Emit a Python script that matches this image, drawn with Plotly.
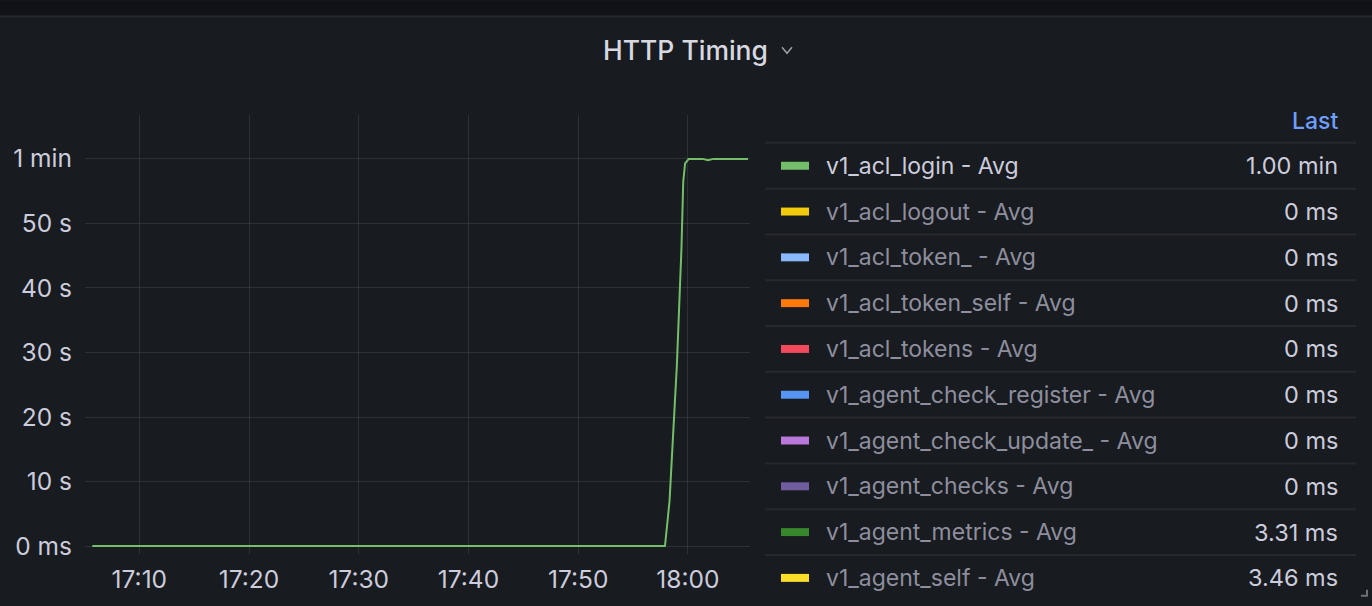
import plotly.graph_objects as go

# v1_acl_login - Avg (seconds), the only visible series
times = ["2024-01-01 17:05:43", "2024-01-01 17:57:55", "2024-01-01 17:58:20",
         "2024-01-01 17:59:00", "2024-01-01 17:59:25", "2024-01-01 17:59:35",
         "2024-01-01 17:59:45", "2024-01-01 18:00:05", "2024-01-01 18:01:20",
         "2024-01-01 18:01:50", "2024-01-01 18:02:20", "2024-01-01 18:05:29"]
login_avg = [0, 0, 7, 28, 46, 56.5, 59.3, 60, 60, 59.8, 60, 60]

series_names = ["v1_acl_login - Avg", "v1_acl_logout - Avg", "v1_acl_token_ - Avg",
                "v1_acl_token_self - Avg", "v1_acl_tokens - Avg",
                "v1_agent_check_register - Avg", "v1_agent_check_update_ - Avg",
                "v1_agent_checks - Avg", "v1_agent_metrics - Avg", "v1_agent_self - Avg"]
series_colors = ["#73bf69", "#f2cc0c", "#8ab8ff", "#ff780a", "#f2495c",
                 "#5794f2", "#b877d9", "#705da0", "#37872d", "#fade2a"]
last_values = ["1.00 min", "0 ms", "0 ms", "0 ms", "0 ms", "0 ms", "0 ms", "0 ms",
               "3.31 ms", "3.46 ms"]

y_ticks = [0, 10, 20, 30, 40, 50, 60]
y_labels = ["0 ms", "10 s", "20 s", "30 s", "40 s", "50 s", "1 min"]

BG = "#181b1f"
TEXT = "#ccccdc"
DIM = "#8e8e9e"
FONT = "Inter"

W, H = 1372, 606
L, R, T, B = 85, 750, 115, 556


def px(x):
    return (x - L) / (R - L)


def py(y):
    return (B - y) / (B - T)


fig = go.Figure()
fig.add_trace(go.Scatter(x=times, y=login_avg, mode="lines",
                         line=dict(color=series_colors[0], width=2),
                         showlegend=False, hoverinfo="skip"))

shapes = []
annotations = []

# top strip of the dashboard
shapes.append(dict(type="rect", xref="paper", yref="paper", x0=px(0), x1=px(W),
                   y0=py(0), y1=py(15), fillcolor="#111217", line_width=0, layer="below"))
shapes.append(dict(type="line", xref="paper", yref="paper", x0=px(0), x1=px(W),
                   y0=py(16), y1=py(16), line=dict(color="#26282d", width=2)))

# title + chevron
annotations.append(dict(text="HTTP Timing", xref="paper", yref="paper", x=px(685), y=py(50),
                        xanchor="center", yanchor="middle", showarrow=False,
                        font=dict(family=FONT, size=26.5, color="#d8d9e0", weight=500)))
shapes.append(dict(type="path", xref="paper", yref="paper",
                   path=f"M {px(782)} {py(47)} L {px(787)} {py(53)} L {px(792)} {py(47)}",
                   line=dict(color="#9fa0aa", width=1.5)))

# legend table
annotations.append(dict(text="Last", xref="paper", yref="paper", x=px(1340), y=py(121),
                        xanchor="right", yanchor="middle", showarrow=False,
                        font=dict(family=FONT, size=23, color="#6e9fff", weight=500)))
row_h = 46
for i, name in enumerate(series_names):
    sep = 143 + row_h * i
    cy = sep + 23
    shapes.append(dict(type="line", xref="paper", yref="paper", x0=px(765), x1=px(1356),
                       y0=py(sep), y1=py(sep), line=dict(color="#27292e", width=2)))
    shapes.append(dict(type="rect", xref="paper", yref="paper", x0=px(781), x1=px(809),
                       y0=py(cy - 4), y1=py(cy + 4), fillcolor=series_colors[i], line_width=0))
    annotations.append(dict(text=name, xref="paper", yref="paper", x=px(824), y=py(cy),
                            xanchor="left", yanchor="middle", showarrow=False,
                            font=dict(family=FONT, size=23, color=TEXT if i == 0 else DIM)))
    annotations.append(dict(text=last_values[i], xref="paper", yref="paper", x=px(1340), y=py(cy),
                            xanchor="right", yanchor="middle", showarrow=False,
                            font=dict(family=FONT, size=23.5, color=TEXT)))

# resize handle
shapes.append(dict(type="path", xref="paper", yref="paper",
                   path=f"M {px(1361)} {py(598)} L {px(1367)} {py(598)} L {px(1367)} {py(592)}",
                   line=dict(color="#6e6f78", width=2)))

fig.update_layout(
    width=W, height=H,
    margin=dict(l=L, r=W - R, t=T, b=H - B),
    paper_bgcolor=BG, plot_bgcolor=BG,
    font=dict(family=FONT, color=TEXT, size=23),
    shapes=shapes, annotations=annotations,
    showlegend=False,
)
fig.update_xaxes(type="date", range=["2024-01-01 17:05:03", "2024-01-01 18:05:40"],
                 tick0="2024-01-01 17:10:00", dtick=600000, tickformat="%H:%M",
                 showgrid=True, gridcolor="rgba(204,204,220,0.12)", gridwidth=1,
                 zeroline=False, showline=False, ticks="", ticklabelstandoff=8,
                 tickfont=dict(family=FONT, size=24.5, color=TEXT), fixedrange=True)
fig.update_yaxes(range=[-1.23, 66.8], tickvals=y_ticks, ticktext=y_labels,
                 showgrid=True, gridcolor="rgba(204,204,220,0.12)", gridwidth=1,
                 zeroline=False, showline=False, ticks="", ticklabelstandoff=12,
                 tickfont=dict(family=FONT, size=24.5, color=TEXT), fixedrange=True)

fig.write_html("out.html", config={"displayModeBar": False},
               post_script="document.body.style.margin='0';"
                           "document.body.style.background='#181b1f';")
